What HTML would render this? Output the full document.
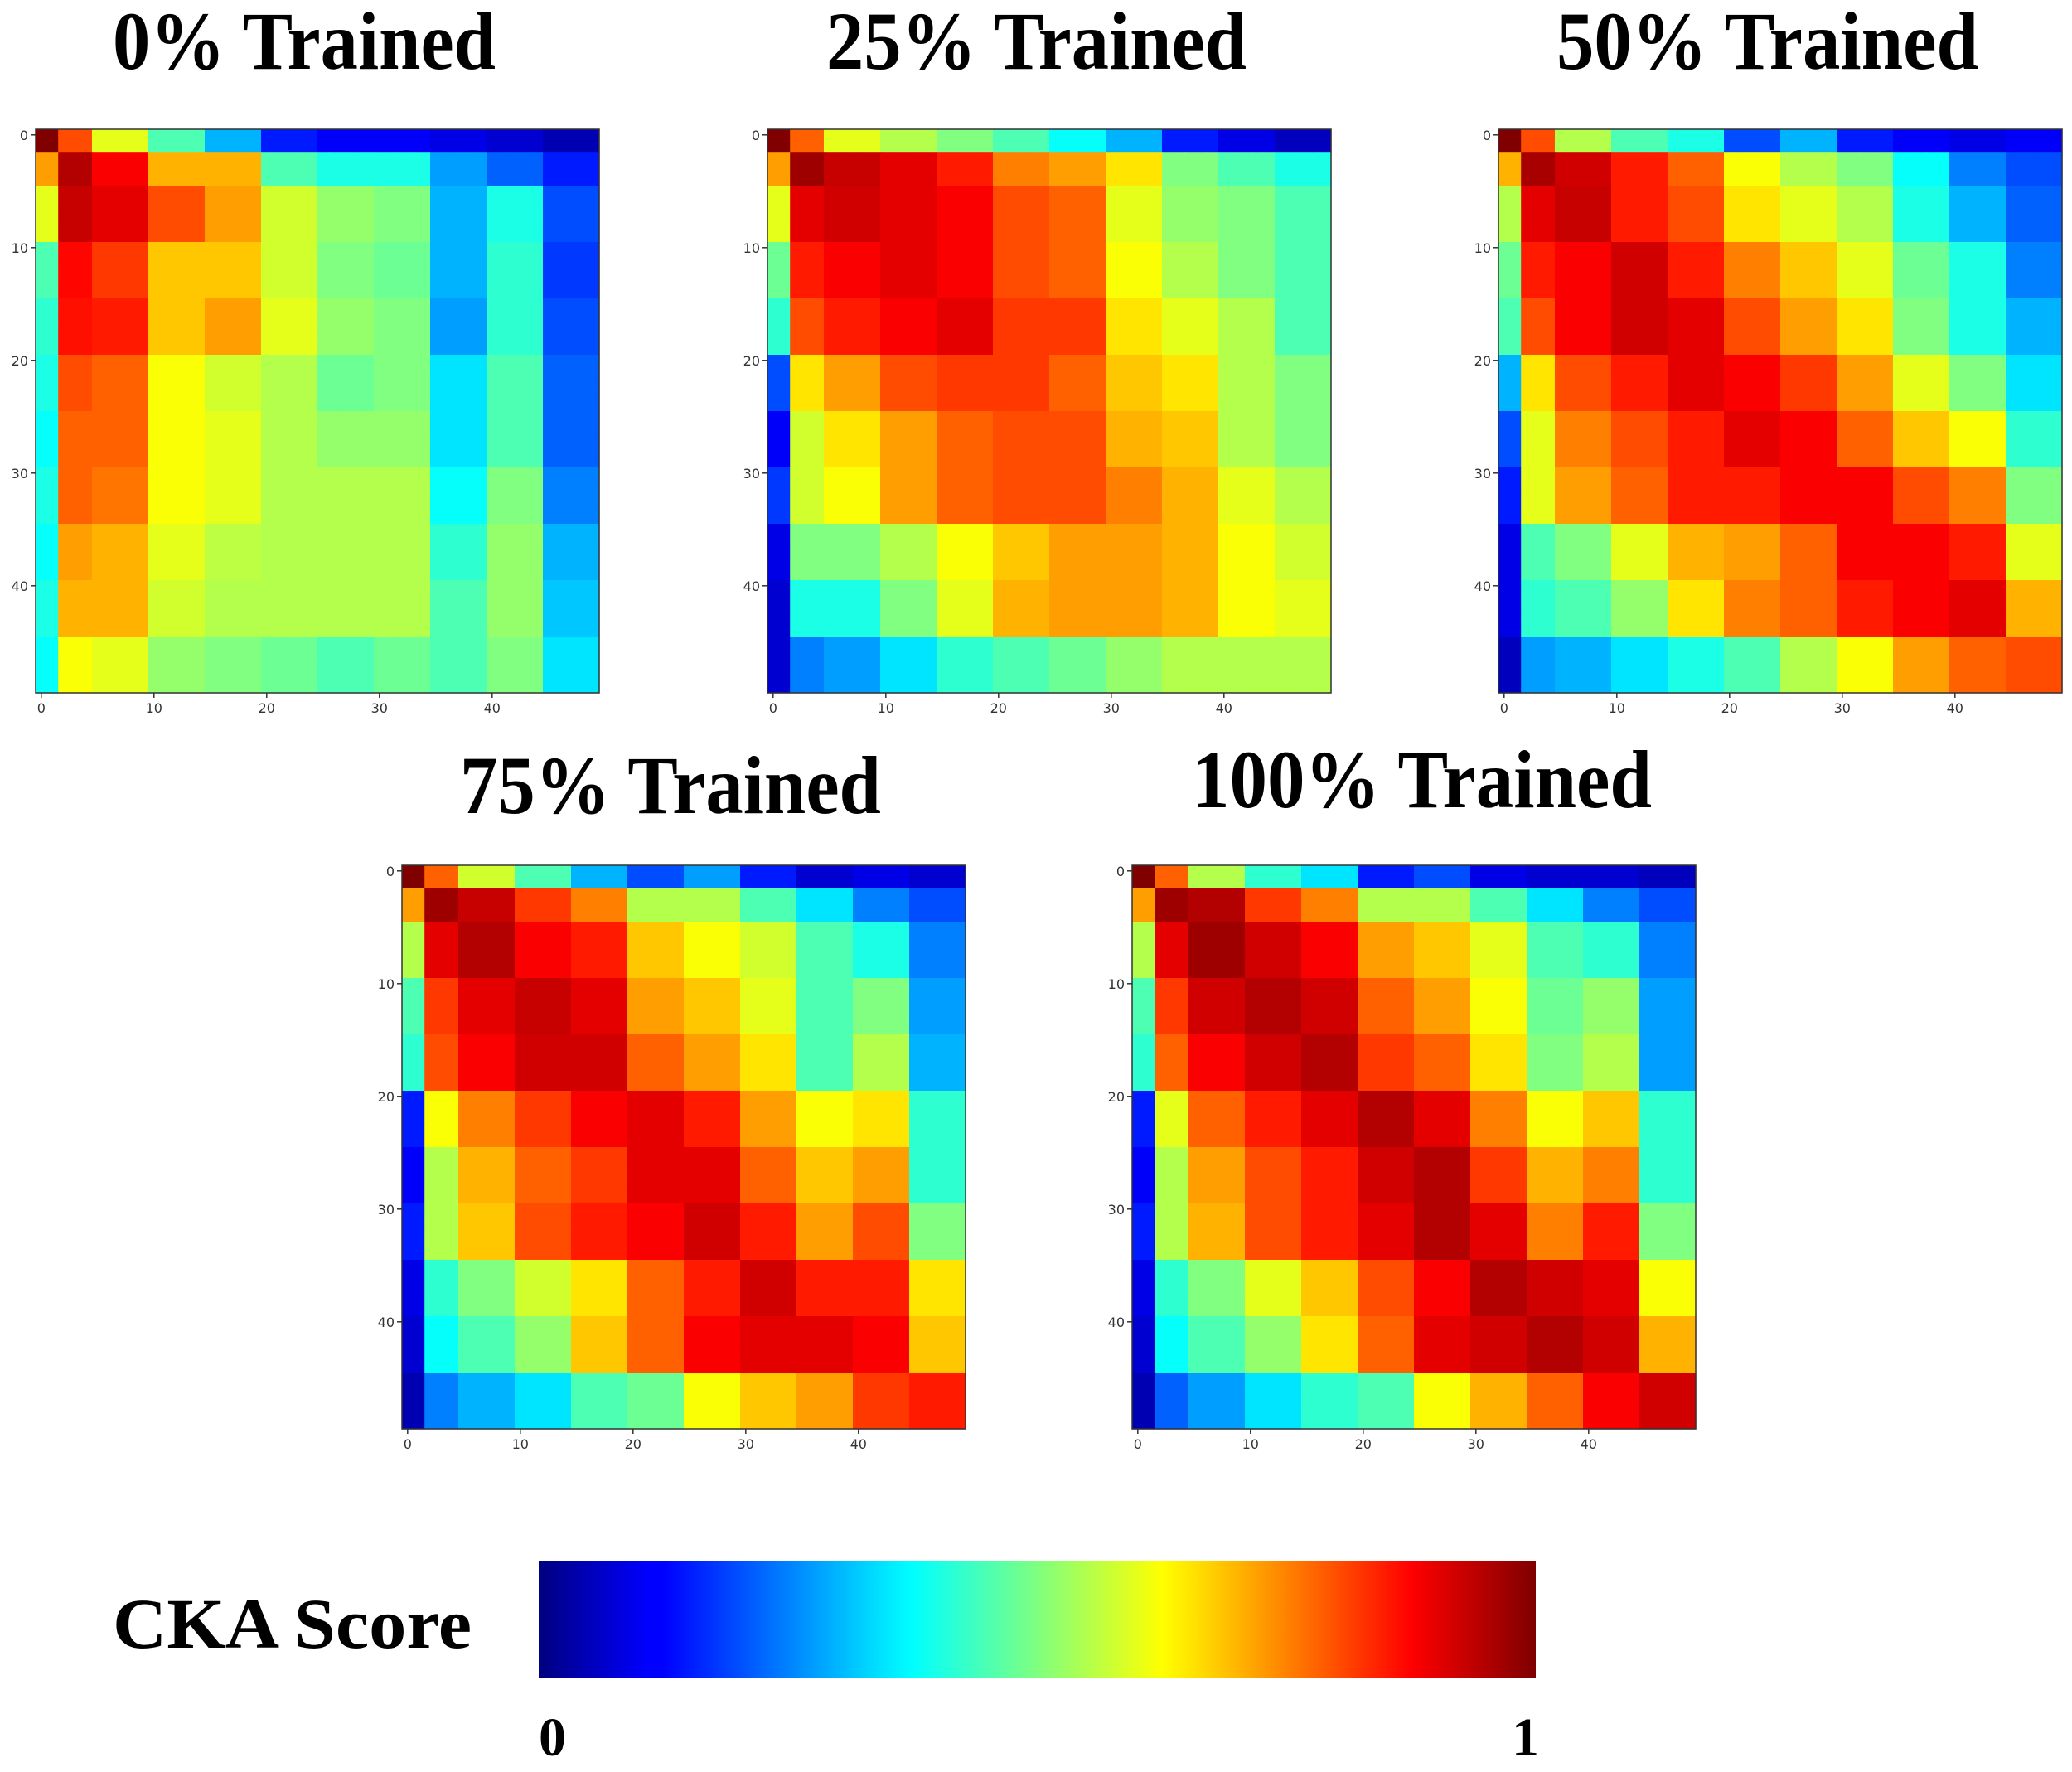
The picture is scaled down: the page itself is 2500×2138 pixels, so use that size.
<!DOCTYPE html>
<html><head><meta charset="utf-8">
<style>
html,body{margin:0;padding:0;background:#fff;}
svg{display:block;}
.title{font-family:"Liberation Serif",serif;font-weight:bold;font-size:100px;fill:#000;}
.tick{font-family:"DejaVu Sans","Liberation Sans",sans-serif;font-size:16px;fill:#333;}
</style></head>
<body>
<svg id="root" width="2500" height="2138" viewBox="0 0 2500 2138" xmlns="http://www.w3.org/2000/svg">
<defs>
<linearGradient id="jet" x1="0" x2="1" y1="0" y2="0">
<stop offset="0" stop-color="#00007f"/><stop offset="0.11" stop-color="#0000ff"/>
<stop offset="0.125" stop-color="#0000ff"/><stop offset="0.34" stop-color="#00dfff"/>
<stop offset="0.375" stop-color="#00ffff"/><stop offset="0.5" stop-color="#7fff7f"/>
<stop offset="0.625" stop-color="#ffff00"/><stop offset="0.66" stop-color="#ffdf00"/>
<stop offset="0.875" stop-color="#ff0000"/><stop offset="1" stop-color="#7f0000"/>
</linearGradient>
</defs>
<text class="title" x="136" y="83" textLength="462" lengthAdjust="spacingAndGlyphs">0% Trained</text>
<text class="title" x="997" y="83" textLength="507" lengthAdjust="spacingAndGlyphs">25% Trained</text>
<text class="title" x="1878" y="83" textLength="509" lengthAdjust="spacingAndGlyphs">50% Trained</text>
<text class="title" x="555" y="981" textLength="508" lengthAdjust="spacingAndGlyphs">75% Trained</text>
<text class="title" x="1438" y="974" textLength="555" lengthAdjust="spacingAndGlyphs">100% Trained</text>
<g id="maps"></g>
<text class="title" x="136" y="1988" style="font-size:86px" textLength="433" lengthAdjust="spacingAndGlyphs">CKA Score</text>
<rect x="650" y="1883" width="1203" height="142" fill="url(#jet)"/>
<text class="title" x="650" y="2118" style="font-size:66px">0</text>
<text class="title" x="1824" y="2118" style="font-size:66px">1</text>
</svg>
<script>
// Data: top strip (rows 0-1), left strip (cols 0-1), coarse 10x10 blocks of 5 layers
const tickLabels = [0, 10, 20, 30, 40];
const nLayers = 50;
const top0 = [0.8,0.6,0.45,0.3,0.15,0.12,0.12,0.1,0.08,0.05];
const left0 = [0.72,0.6,0.45,0.42,0.4,0.38,0.4,0.38,0.4,0.38];
const grid0 = [
[0.95,0.88,0.7,0.7,0.45,0.4,0.4,0.28,0.22,0.15],
[0.93,0.9,0.8,0.72,0.58,0.52,0.5,0.3,0.4,0.2],
[0.87,0.82,0.68,0.68,0.58,0.5,0.48,0.3,0.42,0.18],
[0.86,0.85,0.68,0.72,0.6,0.52,0.5,0.28,0.42,0.2],
[0.8,0.78,0.62,0.58,0.55,0.48,0.5,0.35,0.45,0.22],
[0.78,0.78,0.62,0.6,0.55,0.52,0.52,0.35,0.45,0.22],
[0.78,0.76,0.62,0.6,0.55,0.55,0.55,0.38,0.5,0.25],
[0.72,0.7,0.6,0.56,0.55,0.55,0.55,0.42,0.52,0.3],
[0.7,0.7,0.58,0.55,0.55,0.55,0.55,0.45,0.52,0.32],
[0.62,0.6,0.52,0.5,0.48,0.45,0.48,0.45,0.5,0.35]];
const top25 = [0.78,0.6,0.55,0.5,0.45,0.38,0.3,0.15,0.1,0.06];
const left25 = [0.72,0.6,0.48,0.42,0.2,0.12,0.18,0.1,0.08,0.08];
const grid25 = [
[0.97,0.93,0.9,0.85,0.75,0.72,0.65,0.5,0.45,0.4],
[0.9,0.92,0.9,0.88,0.8,0.78,0.6,0.52,0.5,0.45],
[0.85,0.88,0.9,0.88,0.8,0.78,0.62,0.55,0.5,0.45],
[0.8,0.85,0.88,0.9,0.82,0.82,0.65,0.6,0.55,0.45],
[0.65,0.72,0.8,0.82,0.82,0.78,0.68,0.65,0.55,0.5],
[0.58,0.65,0.72,0.78,0.8,0.8,0.7,0.68,0.55,0.5],
[0.58,0.62,0.72,0.78,0.8,0.8,0.75,0.7,0.6,0.55],
[0.5,0.5,0.55,0.62,0.68,0.72,0.72,0.7,0.62,0.58],
[0.4,0.4,0.5,0.6,0.7,0.72,0.72,0.7,0.62,0.6],
[0.25,0.28,0.35,0.42,0.45,0.48,0.52,0.55,0.55,0.55]];
const top50 = [0.8,0.55,0.45,0.4,0.2,0.3,0.15,0.12,0.1,0.12];
const left50 = [0.7,0.55,0.48,0.45,0.3,0.2,0.15,0.1,0.1,0.06];
const grid50 = [
[0.96,0.92,0.85,0.78,0.62,0.55,0.5,0.38,0.25,0.2],
[0.9,0.93,0.85,0.8,0.65,0.6,0.55,0.4,0.3,0.22],
[0.85,0.88,0.92,0.85,0.75,0.68,0.6,0.48,0.4,0.25],
[0.8,0.88,0.92,0.9,0.8,0.72,0.65,0.5,0.4,0.3],
[0.65,0.8,0.85,0.9,0.88,0.82,0.72,0.6,0.5,0.35],
[0.6,0.75,0.8,0.85,0.9,0.88,0.78,0.68,0.62,0.42],
[0.6,0.72,0.78,0.85,0.85,0.88,0.88,0.8,0.75,0.5],
[0.45,0.5,0.6,0.7,0.72,0.78,0.88,0.88,0.85,0.6],
[0.42,0.45,0.52,0.65,0.75,0.78,0.85,0.88,0.9,0.7],
[0.28,0.3,0.35,0.4,0.45,0.55,0.62,0.72,0.78,0.8]];
const top75 = [0.78,0.58,0.45,0.3,0.2,0.28,0.15,0.08,0.1,0.08];
const left75 = [0.72,0.55,0.45,0.42,0.15,0.12,0.15,0.1,0.08,0.05];
const grid75 = [
[0.97,0.93,0.82,0.75,0.55,0.55,0.45,0.35,0.25,0.2],
[0.9,0.95,0.88,0.85,0.68,0.62,0.58,0.45,0.4,0.25],
[0.82,0.9,0.93,0.9,0.72,0.68,0.6,0.45,0.5,0.28],
[0.8,0.88,0.92,0.92,0.78,0.72,0.65,0.45,0.55,0.3],
[0.62,0.75,0.82,0.88,0.9,0.85,0.72,0.62,0.65,0.42],
[0.55,0.7,0.78,0.82,0.9,0.9,0.78,0.68,0.72,0.42],
[0.55,0.68,0.8,0.85,0.88,0.92,0.85,0.72,0.8,0.5],
[0.42,0.5,0.58,0.65,0.78,0.85,0.92,0.85,0.85,0.65],
[0.38,0.45,0.52,0.68,0.78,0.88,0.9,0.9,0.88,0.68],
[0.25,0.3,0.35,0.45,0.48,0.62,0.68,0.72,0.82,0.85]];
const top100 = [0.78,0.55,0.42,0.35,0.15,0.2,0.1,0.08,0.08,0.06];
const left100 = [0.72,0.55,0.45,0.42,0.15,0.12,0.15,0.1,0.08,0.05];
const grid100 = [
[0.97,0.95,0.82,0.75,0.55,0.55,0.45,0.35,0.25,0.2],
[0.9,0.97,0.92,0.88,0.72,0.68,0.6,0.45,0.42,0.25],
[0.82,0.92,0.95,0.92,0.78,0.72,0.62,0.48,0.52,0.28],
[0.78,0.88,0.92,0.95,0.82,0.78,0.65,0.5,0.55,0.28],
[0.6,0.78,0.85,0.9,0.95,0.9,0.75,0.62,0.68,0.42],
[0.55,0.72,0.8,0.85,0.92,0.95,0.82,0.7,0.75,0.42],
[0.55,0.7,0.8,0.85,0.9,0.95,0.9,0.75,0.85,0.5],
[0.42,0.5,0.6,0.68,0.8,0.88,0.95,0.92,0.9,0.62],
[0.38,0.45,0.52,0.65,0.78,0.9,0.92,0.95,0.92,0.7],
[0.22,0.28,0.35,0.42,0.45,0.62,0.7,0.78,0.88,0.92]];

const panels = [
  {name:'0', x:43, y:156, top:top0, left:left0, grid:grid0},
  {name:'25', x:926, y:156, top:top25, left:left25, grid:grid25},
  {name:'50', x:1808, y:156, top:top50, left:left50, grid:grid50},
  {name:'75', x:485, y:1044, top:top75, left:left75, grid:grid75},
  {name:'100', x:1366, y:1044, top:top100, left:left100, grid:grid100}
];
const SIZE = 680;
const NS = 'http://www.w3.org/2000/svg';
function jet(v){
  const c = t => Math.max(0, Math.min(1, t));
  const r = c(1.5 - Math.abs(4*v - 3)), g = c(1.5 - Math.abs(4*v - 2)), b = c(1.5 - Math.abs(4*v - 1));
  return 'rgb(' + Math.round(r*255) + ',' + Math.round(g*255) + ',' + Math.round(b*255) + ')';
}
function cellValue(p, i, j){
  const bi = Math.floor(i/5), bj = Math.floor(j/5);
  if (i < 2 && j < 2) return 1.0;
  if (i < 2) return p.top[bj];
  if (j < 2) return p.left[bi];
  return p.grid[bi][bj];
}
const maps = document.getElementById('maps');
panels.forEach(p => {
  const g = document.createElementNS(NS, 'g');
  
  
  const cs = SIZE / nLayers;
  const sx = j => p.x + j * cs;
  const sy = i => p.y + i * cs;
  for (let i = 0; i < nLayers; i++) {
    for (let j = 0; j < nLayers; j++) {
      const r = document.createElementNS(NS, 'rect');
      r.setAttribute('x', sx(j).toFixed(2));
      r.setAttribute('y', sy(i).toFixed(2));
      r.setAttribute('width', (cs + 0.6).toFixed(2));
      r.setAttribute('height', (cs + 0.6).toFixed(2));
      r.setAttribute('fill', jet(cellValue(p, i, j)));
      
      
      g.appendChild(r);
    }
  }
  const frame = document.createElementNS(NS, 'rect');
  frame.setAttribute('x', p.x); frame.setAttribute('y', p.y);
  frame.setAttribute('width', SIZE); frame.setAttribute('height', SIZE);
  frame.setAttribute('fill', 'none'); frame.setAttribute('stroke', '#333'); frame.setAttribute('stroke-width', '1.5');
  
  
  g.appendChild(frame);
  tickLabels.forEach(t => {
    const c = t * cs + cs / 2;
    const tx = document.createElementNS(NS, 'line');
    tx.setAttribute('x1', p.x + c); tx.setAttribute('x2', p.x + c);
    tx.setAttribute('y1', p.y + SIZE); tx.setAttribute('y2', p.y + SIZE + 6);
    tx.setAttribute('stroke', '#333'); tx.setAttribute('stroke-width', '1.5');
    
    
    g.appendChild(tx);
    const lx = document.createElementNS(NS, 'text');
    lx.setAttribute('x', p.x + c); lx.setAttribute('y', p.y + SIZE + 24);
    lx.setAttribute('text-anchor', 'middle'); lx.setAttribute('class', 'tick');
    lx.textContent = t;
    
    
    g.appendChild(lx);
    const ty = document.createElementNS(NS, 'line');
    ty.setAttribute('x1', p.x - 6); ty.setAttribute('x2', p.x);
    ty.setAttribute('y1', p.y + c); ty.setAttribute('y2', p.y + c);
    ty.setAttribute('stroke', '#333'); ty.setAttribute('stroke-width', '1.5');
    
    
    g.appendChild(ty);
    const ly = document.createElementNS(NS, 'text');
    ly.setAttribute('x', p.x - 9); ly.setAttribute('y', p.y + c + 6);
    ly.setAttribute('text-anchor', 'end'); ly.setAttribute('class', 'tick');
    ly.textContent = t;
    
    
    g.appendChild(ly);
  });
  maps.appendChild(g);
});
</script>
</body></html>
